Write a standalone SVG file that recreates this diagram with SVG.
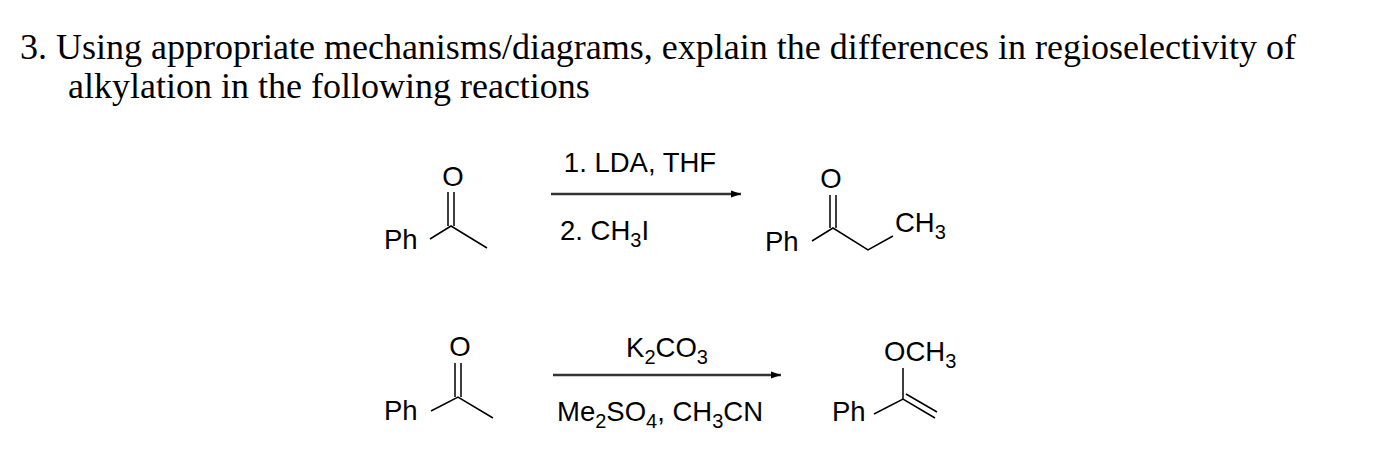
<svg xmlns="http://www.w3.org/2000/svg" width="1382" height="466" viewBox="0 0 1382 466">
<style>
.t{font-family:"Liberation Serif",serif;font-size:36px;fill:#000}
.c{font-family:"Liberation Sans",Arial,sans-serif;font-size:27.5px;fill:#000}
.s{font-size:20px}
.b{stroke:#000;stroke-width:1.5;fill:none}
.a{stroke:#333;stroke-width:2.5;fill:none}
</style>
<defs><marker id="ah" viewBox="0 0 10 10" refX="10" refY="5" markerWidth="8" markerHeight="4" orient="auto" markerUnits="strokeWidth"><path d="M0,1.5 L10,5 L0,8.5 Z" fill="#000"/></marker></defs>
<rect width="1382" height="466" fill="#fff"/>
<text class="t" x="20" y="59">3. Using appropriate mechanisms/diagrams, explain the differences in regioselectivity of</text>
<text class="t" x="68" y="98">alkylation in the following reactions</text>
<g id="sm1">
<text class="c" x="384" y="249">Ph</text>
<text class="c" x="453" y="186" text-anchor="middle">O</text>
<path class="b" d="M430,239 L451,226 L487,248 M448,226 L448,192 M454,226 L454,192"/>
</g>
<g id="p1">
<text class="c" x="765" y="251">Ph</text>
<text class="c" x="831" y="188" text-anchor="middle">O</text>
<path class="b" d="M812,241 L833,228 L868,250 L893,236 M830,228 L830,195 M836,228 L836,195"/>
<text class="c" x="895" y="232">CH<tspan class="s" dy="7">3</tspan></text>
</g>
<g id="sm2">
<text class="c" x="384" y="420">Ph</text>
<text class="c" x="460" y="356" text-anchor="middle">O</text>
<path class="b" d="M431,411 L458,397 L493,418 M455,397 L455,363 M461,397 L461,363"/>
</g>
<g id="p2">
<text class="c" x="832" y="421">Ph</text>
<text class="c" x="884" y="361">OCH<tspan class="s" dy="7">3</tspan></text>
<path class="b" d="M874,414 L903,399 L935,418 M903,399 L903,368 M906,394 L937,412"/>
</g>
<g id="connectors">
<line class="a" x1="551" y1="194" x2="741" y2="194" marker-end="url(#ah)"/>
<line class="a" x1="553" y1="375" x2="781" y2="375" marker-end="url(#ah)"/>
</g>
<text class="c" x="640" y="172" text-anchor="middle">1. LDA, THF</text>
<text class="c" x="560" y="240">2. CH<tspan class="s" dy="7">3</tspan><tspan dy="-7">I</tspan></text>
<text class="c" x="667" y="357" text-anchor="middle">K<tspan class="s" dy="7">2</tspan><tspan dy="-7">CO</tspan><tspan class="s" dy="7">3</tspan></text>
<text class="c" x="557" y="421">Me<tspan class="s" dy="7">2</tspan><tspan dy="-7">SO</tspan><tspan class="s" dy="7">4</tspan><tspan dy="-7">, CH</tspan><tspan class="s" dy="7">3</tspan><tspan dy="-7">CN</tspan></text>
</svg>
